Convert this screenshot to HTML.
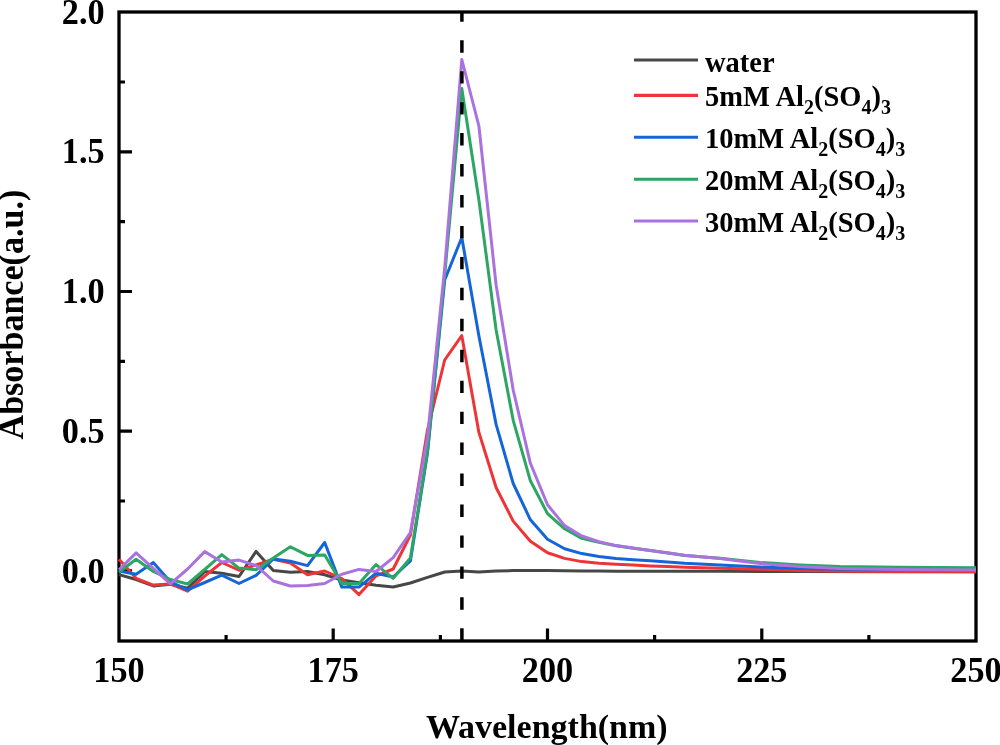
<!DOCTYPE html>
<html><head><meta charset="utf-8"><title>Absorbance</title>
<style>html,body{margin:0;padding:0;background:#fff;}svg{display:block;}</style>
</head><body>
<svg width="1000" height="745" viewBox="0 0 1000 745">
<rect width="1000" height="745" fill="#fff"/>
<defs><clipPath id="c"><rect x="100" y="0" width="877.5" height="660"/></clipPath></defs>
<rect x="119" y="12" width="857" height="629" fill="none" stroke="#000" stroke-width="3.3"/>
<path d="M226.1,641V635.0 M333.2,641V628.5 M440.4,641V635.0 M547.5,641V628.5 M654.6,641V635.0 M761.8,641V628.5 M868.9,641V635.0 M119,570.9H132.0 M119,501.0H125.0 M119,431.2H132.0 M119,361.4H125.0 M119,291.5H132.0 M119,221.6H125.0 M119,151.8H132.0 M119,82.0H125.0" stroke="#000" stroke-width="3.2" fill="none"/>
<g clip-path="url(#c)" fill="none" stroke-width="3" stroke-linejoin="round">
<polyline points="119.0,574.6 136.1,579.5 153.3,585.9 170.4,584.3 187.6,588.3 204.7,571.6 221.8,573.2 239.0,576.5 256.1,551.4 273.3,570.4 290.4,572.2 307.5,571.5 324.7,574.8 341.8,580.1 359.0,582.8 376.1,585.2 393.2,587.0 410.4,583.0 427.5,577.4 444.7,572.0 461.8,571.0 478.9,572.0 496.1,571.0 513.2,570.6 530.4,570.5 547.5,570.6 564.6,570.8 581.8,571.0 598.9,571.1 616.1,571.2 633.2,571.2 650.3,571.2 667.5,571.2 684.6,571.2 720.0,571.3 800.0,571.5 900.0,571.8 976.0,571.8" stroke="#474747"/>
<polyline points="119.0,559.3 136.1,578.3 153.3,585.1 170.4,583.9 187.6,591.2 204.7,576.2 221.8,562.5 239.0,570.2 256.1,565.0 273.3,559.2 290.4,563.0 307.5,574.8 324.7,571.0 341.8,578.5 359.0,594.6 376.1,575.8 393.2,569.0 410.4,535.0 427.5,430.0 444.7,360.0 461.8,335.7 478.9,432.4 496.1,487.5 513.2,521.1 530.4,541.3 547.5,552.8 564.6,558.4 581.8,561.6 598.9,563.2 616.1,564.3 633.2,565.1 650.3,565.9 667.5,566.4 684.6,567.2 720.0,568.3 760.0,569.3 800.0,570.5 840.0,571.2 900.0,571.6 976.0,571.7" stroke="#ef3437"/>
<polyline points="119.0,571.0 136.1,574.2 153.3,562.6 170.4,581.9 187.6,589.8 204.7,582.5 221.8,575.2 239.0,583.5 256.1,575.3 273.3,559.0 290.4,561.3 307.5,565.6 324.7,542.5 341.8,587.1 359.0,587.1 376.1,573.2 393.2,577.0 410.4,561.0 427.5,453.0 444.7,280.0 461.8,237.5 478.9,336.0 496.1,424.4 513.2,483.5 530.4,519.8 547.5,539.2 564.6,548.8 581.8,553.6 598.9,556.5 616.1,558.4 633.2,559.7 650.3,560.8 667.5,561.9 684.6,563.2 720.0,565.0 760.0,567.0 800.0,568.4 840.0,569.2 900.0,569.6 976.0,569.8" stroke="#1466d8"/>
<polyline points="119.0,572.2 136.1,559.3 153.3,571.4 170.4,579.5 187.6,584.0 204.7,569.5 221.8,554.6 239.0,568.1 256.1,569.7 273.3,558.0 290.4,546.8 307.5,555.4 324.7,554.9 341.8,583.4 359.0,583.4 376.1,564.6 393.2,578.3 410.4,558.0 427.5,451.0 444.7,275.0 461.8,88.5 478.9,200.0 496.1,330.0 513.2,420.3 530.4,480.8 547.5,513.6 564.6,528.8 581.8,538.4 598.9,542.4 616.1,545.8 633.2,548.2 650.3,550.6 667.5,553.0 684.6,555.5 720.0,558.3 760.0,562.5 800.0,564.9 840.0,566.5 900.0,567.3 976.0,567.7" stroke="#2ca663"/>
<polyline points="119.0,569.8 136.1,552.9 153.3,568.4 170.4,583.9 187.6,569.0 204.7,551.6 221.8,562.0 239.0,560.1 256.1,565.5 273.3,581.0 290.4,586.0 307.5,585.5 324.7,583.5 341.8,574.2 359.0,569.4 376.1,571.5 393.2,557.6 410.4,532.5 427.5,437.0 444.7,268.0 461.8,59.5 478.9,126.0 496.1,285.0 513.2,390.0 530.4,463.3 547.5,504.8 564.6,525.6 581.8,536.0 598.9,541.6 616.1,545.6 633.2,548.0 650.3,550.4 667.5,552.8 684.6,555.2 720.0,558.5 760.0,563.5 800.0,566.5 840.0,568.4 900.0,569.4 976.0,570.0" stroke="#aa72de"/>
</g>
<line x1="461.9" y1="12" x2="461.9" y2="641" stroke="#000" stroke-width="3.5" stroke-dasharray="12.4 18.55" stroke-dashoffset="2.7"/>
<g font-family="'Liberation Serif','Times New Roman',serif" font-weight="bold" font-size="36" fill="#000">
<text transform="translate(119.0,682.2) scale(0.95,1)" text-anchor="middle">150</text>
<text transform="translate(333.2,682.2) scale(0.95,1)" text-anchor="middle">175</text>
<text transform="translate(547.5,682.2) scale(0.95,1)" text-anchor="middle">200</text>
<text transform="translate(761.8,682.2) scale(0.95,1)" text-anchor="middle">225</text>
<text transform="translate(976.0,682.2) scale(0.95,1)" text-anchor="middle">250</text>
<text transform="translate(104.6,582.5) scale(0.95,1)" text-anchor="end">0.0</text>
<text transform="translate(104.6,442.8) scale(0.95,1)" text-anchor="end">0.5</text>
<text transform="translate(104.6,303.1) scale(0.95,1)" text-anchor="end">1.0</text>
<text transform="translate(104.6,163.4) scale(0.95,1)" text-anchor="end">1.5</text>
<text transform="translate(104.6,23.7) scale(0.95,1)" text-anchor="end">2.0</text>
</g>
<text x="546.8" y="737.6" text-anchor="middle" font-family="'Liberation Serif','Times New Roman',serif" font-weight="bold" font-size="34">Wavelength(nm)</text>
<text transform="translate(23.2,314.6) rotate(-90) scale(0.965,1)" text-anchor="middle" font-family="'Liberation Serif','Times New Roman',serif" font-weight="bold" font-size="35.3">Absorbance(a.u.)</text>
<g font-family="'Liberation Serif','Times New Roman',serif" font-weight="bold" font-size="28.5" fill="#000">
<line x1="634" y1="60.0" x2="698" y2="60.0" stroke="#474747" stroke-width="3.1"/>
<text x="705" y="71.5">water</text>
<line x1="634" y1="95.4" x2="698" y2="95.4" stroke="#ef3437" stroke-width="3.1"/>
<text x="705" y="106.1">5mM Al<tspan font-size="20" dy="8">2</tspan><tspan dy="-8">(SO</tspan><tspan font-size="20" dy="8">4</tspan><tspan dy="-8">)</tspan><tspan font-size="20" dy="8">3</tspan></text>
<line x1="634" y1="137.3" x2="698" y2="137.3" stroke="#1466d8" stroke-width="3.1"/>
<text x="705" y="148.0">10mM Al<tspan font-size="20" dy="8">2</tspan><tspan dy="-8">(SO</tspan><tspan font-size="20" dy="8">4</tspan><tspan dy="-8">)</tspan><tspan font-size="20" dy="8">3</tspan></text>
<line x1="634" y1="179.3" x2="698" y2="179.3" stroke="#2ca663" stroke-width="3.1"/>
<text x="705" y="189.9">20mM Al<tspan font-size="20" dy="8">2</tspan><tspan dy="-8">(SO</tspan><tspan font-size="20" dy="8">4</tspan><tspan dy="-8">)</tspan><tspan font-size="20" dy="8">3</tspan></text>
<line x1="634" y1="221.0" x2="698" y2="221.0" stroke="#aa72de" stroke-width="3.1"/>
<text x="705" y="231.8">30mM Al<tspan font-size="20" dy="8">2</tspan><tspan dy="-8">(SO</tspan><tspan font-size="20" dy="8">4</tspan><tspan dy="-8">)</tspan><tspan font-size="20" dy="8">3</tspan></text>
</g>
</svg>
</body></html>
